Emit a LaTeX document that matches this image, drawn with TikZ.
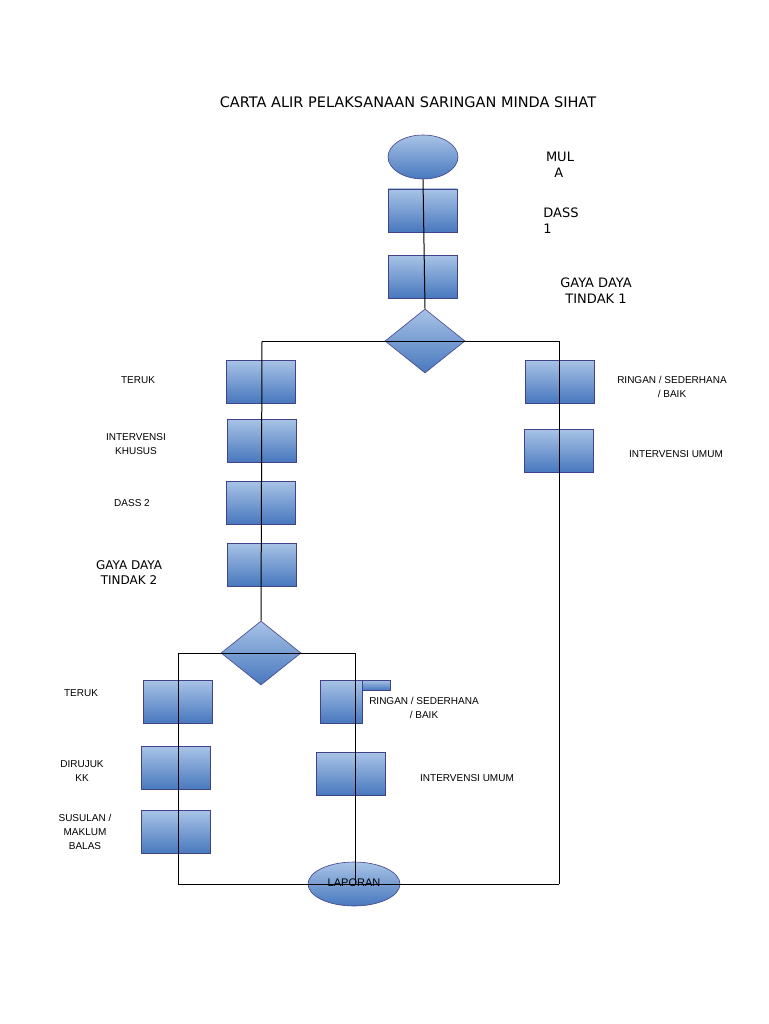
\documentclass[tikz,border=0pt]{standalone}
\usepackage{fontspec}
\setmainfont{DejaVu Sans}
\newfontfamily\lib{Liberation Sans}
\usetikzlibrary{shapes.geometric}
\begin{document}
\begin{tikzpicture}[x=1pt,y=-1pt,
  shp/.style={draw=blue!35!gray!80!black,line width=0.6pt,top color={rgb,255:red,168;green,195;blue,230},bottom color={rgb,255:red,72;green,120;blue,190},inner sep=0pt},
  box/.style={shp,rectangle,minimum width=69pt,minimum height=43pt},
  dia/.style={shp,diamond,minimum width=80pt,minimum height=64pt,aspect=1.25},
  ell/.style={shp,ellipse},
  ln/.style={black,line width=1pt},
  sm/.style={font=\lib\fontsize{10}{14}\selectfont,align=center},
  big/.style={font=\fontsize{13}{16}\selectfont,align=center}]
\useasboundingbox (0,0) rectangle (768,1024);
\fill[white] (0,0) rectangle (768,1024);
\node[font=\fontsize{14.5}{17}\selectfont] (title) at (408,102) {CARTA ALIR PELAKSANAAN SARINGAN MINDA SIHAT};
% shapes
\node[ell,minimum width=70pt,minimum height=44pt] (start) at (423,157) {};
\node[box] (r1) at (422.5,210.5) {};
\node[box] (r2) at (422.5,276.5) {};
\node[dia] (d1) at (425,341) {};
\node[box] (l1) at (260.5,381.5) {};
\node[box] (l2) at (261.5,440.5) {};
\node[box] (l3) at (260.5,502.5) {};
\node[box] (l4) at (261.5,564.5) {};
\node[box] (q1) at (559.5,381.5) {};
\node[box] (q2) at (558.5,450.5) {};
\node[dia] (d2) at (261,653) {};
\node[box] (b1) at (177.5,701.5) {};
\node[box] (b2) at (175.5,768) {};
\node[box] (b3) at (175.5,832) {};
\node[shp,rectangle,minimum width=70pt,minimum height=10pt] (c0) at (355,685) {};
\node[box,minimum width=42pt] (c1) at (341,701.5) {};
\node[box] (c2) at (350.5,774) {};
\node[ell,minimum width=92pt,minimum height=44pt] (lap) at (354,884) {};
\node[sm,font=\lib\fontsize{11}{13}\selectfont] at (354,883) {LAPORAN};
% connectors
\coordinate (a1) at (262,341); \coordinate (a2) at (559,341);
\coordinate (a3) at (262,620); \coordinate (a4) at (559,884);
\coordinate (b5) at (178,653); \coordinate (b6) at (355,653);
\coordinate (b7) at (178,884); \coordinate (b8) at (355,884);
\draw[ln] (start.south) -- (d1.north);
\draw[ln] (a1) -- (a2);
\draw[ln] (a1) -- (d2.north);
\draw[ln] (a2) -- (a4);
\draw[ln] (b5) -- (b6);
\draw[ln] (b5) -- (b7) -- (a4);
\draw[ln] (b6) -- (b8);
% labels
\node[big,align=left] at (560,165) {MUL\\\ \ A};
\node[big,align=left] at (561,221) {DASS\\1};
\node[big] at (596,291) {GAYA DAYA\\TINDAK 1};
\node[sm] at (138,380) {TERUK};
\node[sm] at (136,444) {INTERVENSI\\KHUSUS};
\node[sm] at (132,503) {DASS 2};
\node[big,font=\fontsize{12}{15}\selectfont] at (129,573) {GAYA DAYA\\TINDAK 2};
\node[sm] at (672,387) {RINGAN / SEDERHANA\\/ BAIK};
\node[sm] at (676,454) {INTERVENSI UMUM};
\node[sm] at (81,693) {TERUK};
\node[sm] at (82,771) {DIRUJUK\\KK};
\node[sm] at (85,832) {SUSULAN /\\MAKLUM\\BALAS};
\node[sm] at (424,708) {RINGAN / SEDERHANA\\/ BAIK};
\node[sm] at (467,778) {INTERVENSI UMUM};
\end{tikzpicture}
\end{document}
